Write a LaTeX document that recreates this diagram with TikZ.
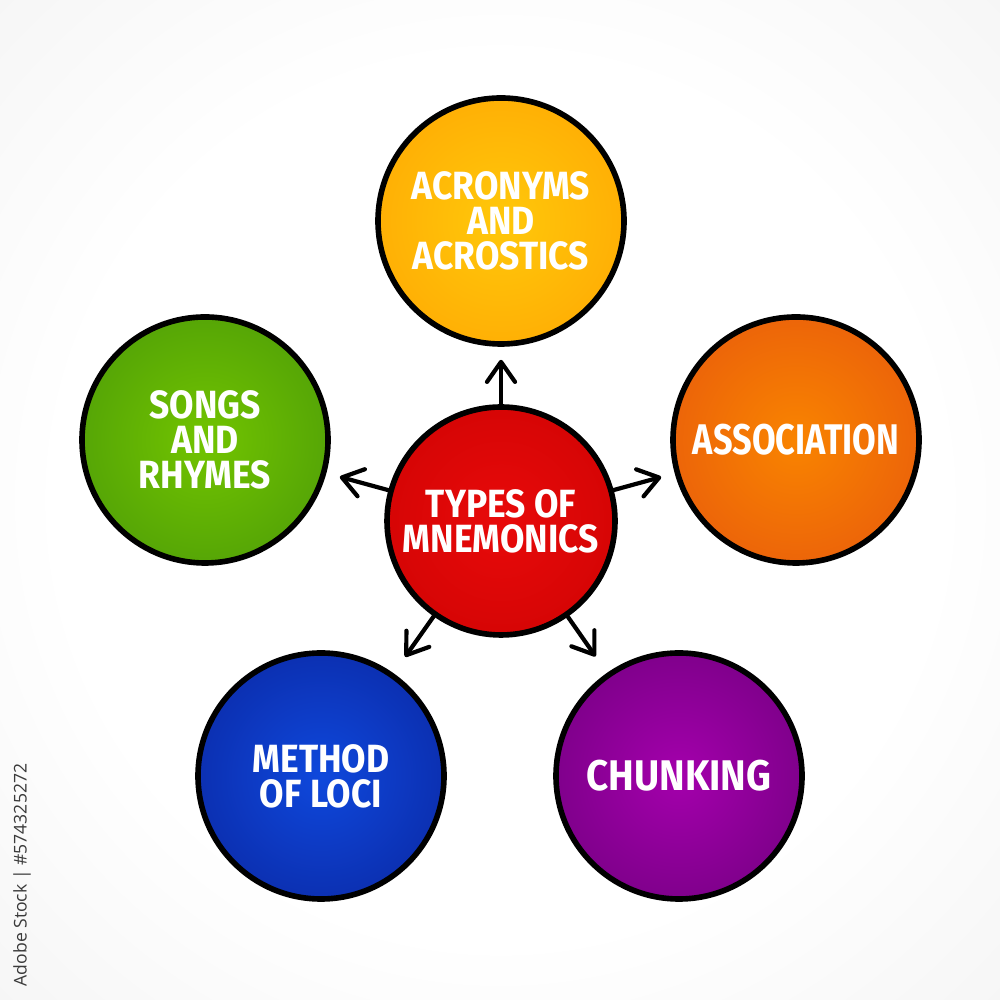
\documentclass[tikz,border=0pt]{standalone}
\usepackage{fontspec}
\usetikzlibrary{arrows.meta}
\newfontfamily\labelfont{Fira Sans}[FakeStretch=0.9]
\newfontfamily\narrowfont{Fira Sans}[FakeStretch=0.8]
\newfontfamily\idfont{Open Sans}
\definecolor{bgOut}{HTML}{DEDEDE}
\definecolor{topIn}{HTML}{FFC80A}
\definecolor{topOut}{HTML}{FF9800}
\definecolor{grnIn}{HTML}{72C400}
\definecolor{grnOut}{HTML}{3A880C}
\definecolor{ascIn}{HTML}{F98400}
\definecolor{ascOut}{HTML}{E04612}
\definecolor{redIn}{HTML}{E80A0A}
\definecolor{redOut}{HTML}{C40000}
\definecolor{bluIn}{HTML}{0E48DC}
\definecolor{bluOut}{HTML}{0A1888}
\definecolor{purIn}{HTML}{A400AC}
\definecolor{purOut}{HTML}{5C006C}
\definecolor{idgray}{HTML}{3A3A3A}
\pgfdeclareradialshading{shBg}{\pgfpointorigin}{color(0bp)=(white); color(22bp)=(white); color(72bp)=(bgOut)}
\pgfdeclareradialshading{shTop}{\pgfpointorigin}{color(0bp)=(topIn); color(50bp)=(topOut)}
\pgfdeclareradialshading{shGrn}{\pgfpointorigin}{color(0bp)=(grnIn); color(50bp)=(grnOut)}
\pgfdeclareradialshading{shAsc}{\pgfpointorigin}{color(0bp)=(ascIn); color(50bp)=(ascOut)}
\pgfdeclareradialshading{shRed}{\pgfpointorigin}{color(0bp)=(redIn); color(50bp)=(redOut)}
\pgfdeclareradialshading{shBlu}{\pgfpointorigin}{color(0bp)=(bluIn); color(50bp)=(bluOut)}
\pgfdeclareradialshading{shPur}{\pgfpointorigin}{color(0bp)=(purIn); color(50bp)=(purOut)}
\tikzset{
  bubble/.style={circle, draw=black, line width=1.6pt, minimum size=2.46cm, inner sep=0pt,
    align=center, text=white, font=\labelfont\bfseries\fontsize{11.2}{10}\selectfont},
  hub/.style={bubble, minimum size=2.28cm},
  bigtext/.style={font=\labelfont\bfseries\fontsize{12.2}{11}\selectfont},
  narrowtext/.style={font=\narrowfont\bfseries\fontsize{12.2}{11}\selectfont},
  arr/.style={-{Straight Barb[length=2mm,width=2.8mm,line cap=round,line join=round]},
    line width=1.2pt, line cap=round, draw=black}
}
\begin{document}
\begin{tikzpicture}
\useasboundingbox (0,0) rectangle (10,10);
\fill[shading=shBg] (0,0) rectangle (10,10);
% nodes
\node[hub, shading=shRed] (hubn) at (5.01,4.79) {TYPES OF\\MNEMONICS};
\node[bubble, shading=shTop] (acro) at (5.01,7.79) {ACRONYMS\\AND\\ACROSTICS};
\node[bubble, shading=shGrn] (song) at (2.05,5.60) {SONGS\\AND\\RHYMES};
\node[bubble, shading=shAsc, narrowtext] (asso) at (7.96,5.60) {ASSOCIATION};
\node[bubble, shading=shBlu] (loci) at (3.21,2.24) {METHOD\\OF LOCI};
\node[bubble, shading=shPur, bigtext] (chun) at (6.79,2.24) {CHUNKING};
% connectors
\draw[arr, shorten >=0.13cm] (hubn) -- (acro);
\draw[arr, shorten >=0.14cm] (hubn) -- (song);
\draw[arr, shorten >=0.14cm] (hubn) -- (asso);
\draw[arr, shorten >=0.20cm] (hubn) -- (loci);
\draw[arr, shorten >=0.20cm] (hubn) -- (chun);
% stock id
\node[rotate=90, text=idgray, font=\idfont\fontsize{5}{6}\selectfont, inner sep=0pt] (stockid) at (0.22,1.25) {Adobe Stock | \#574325272};
\end{tikzpicture}
\end{document}
